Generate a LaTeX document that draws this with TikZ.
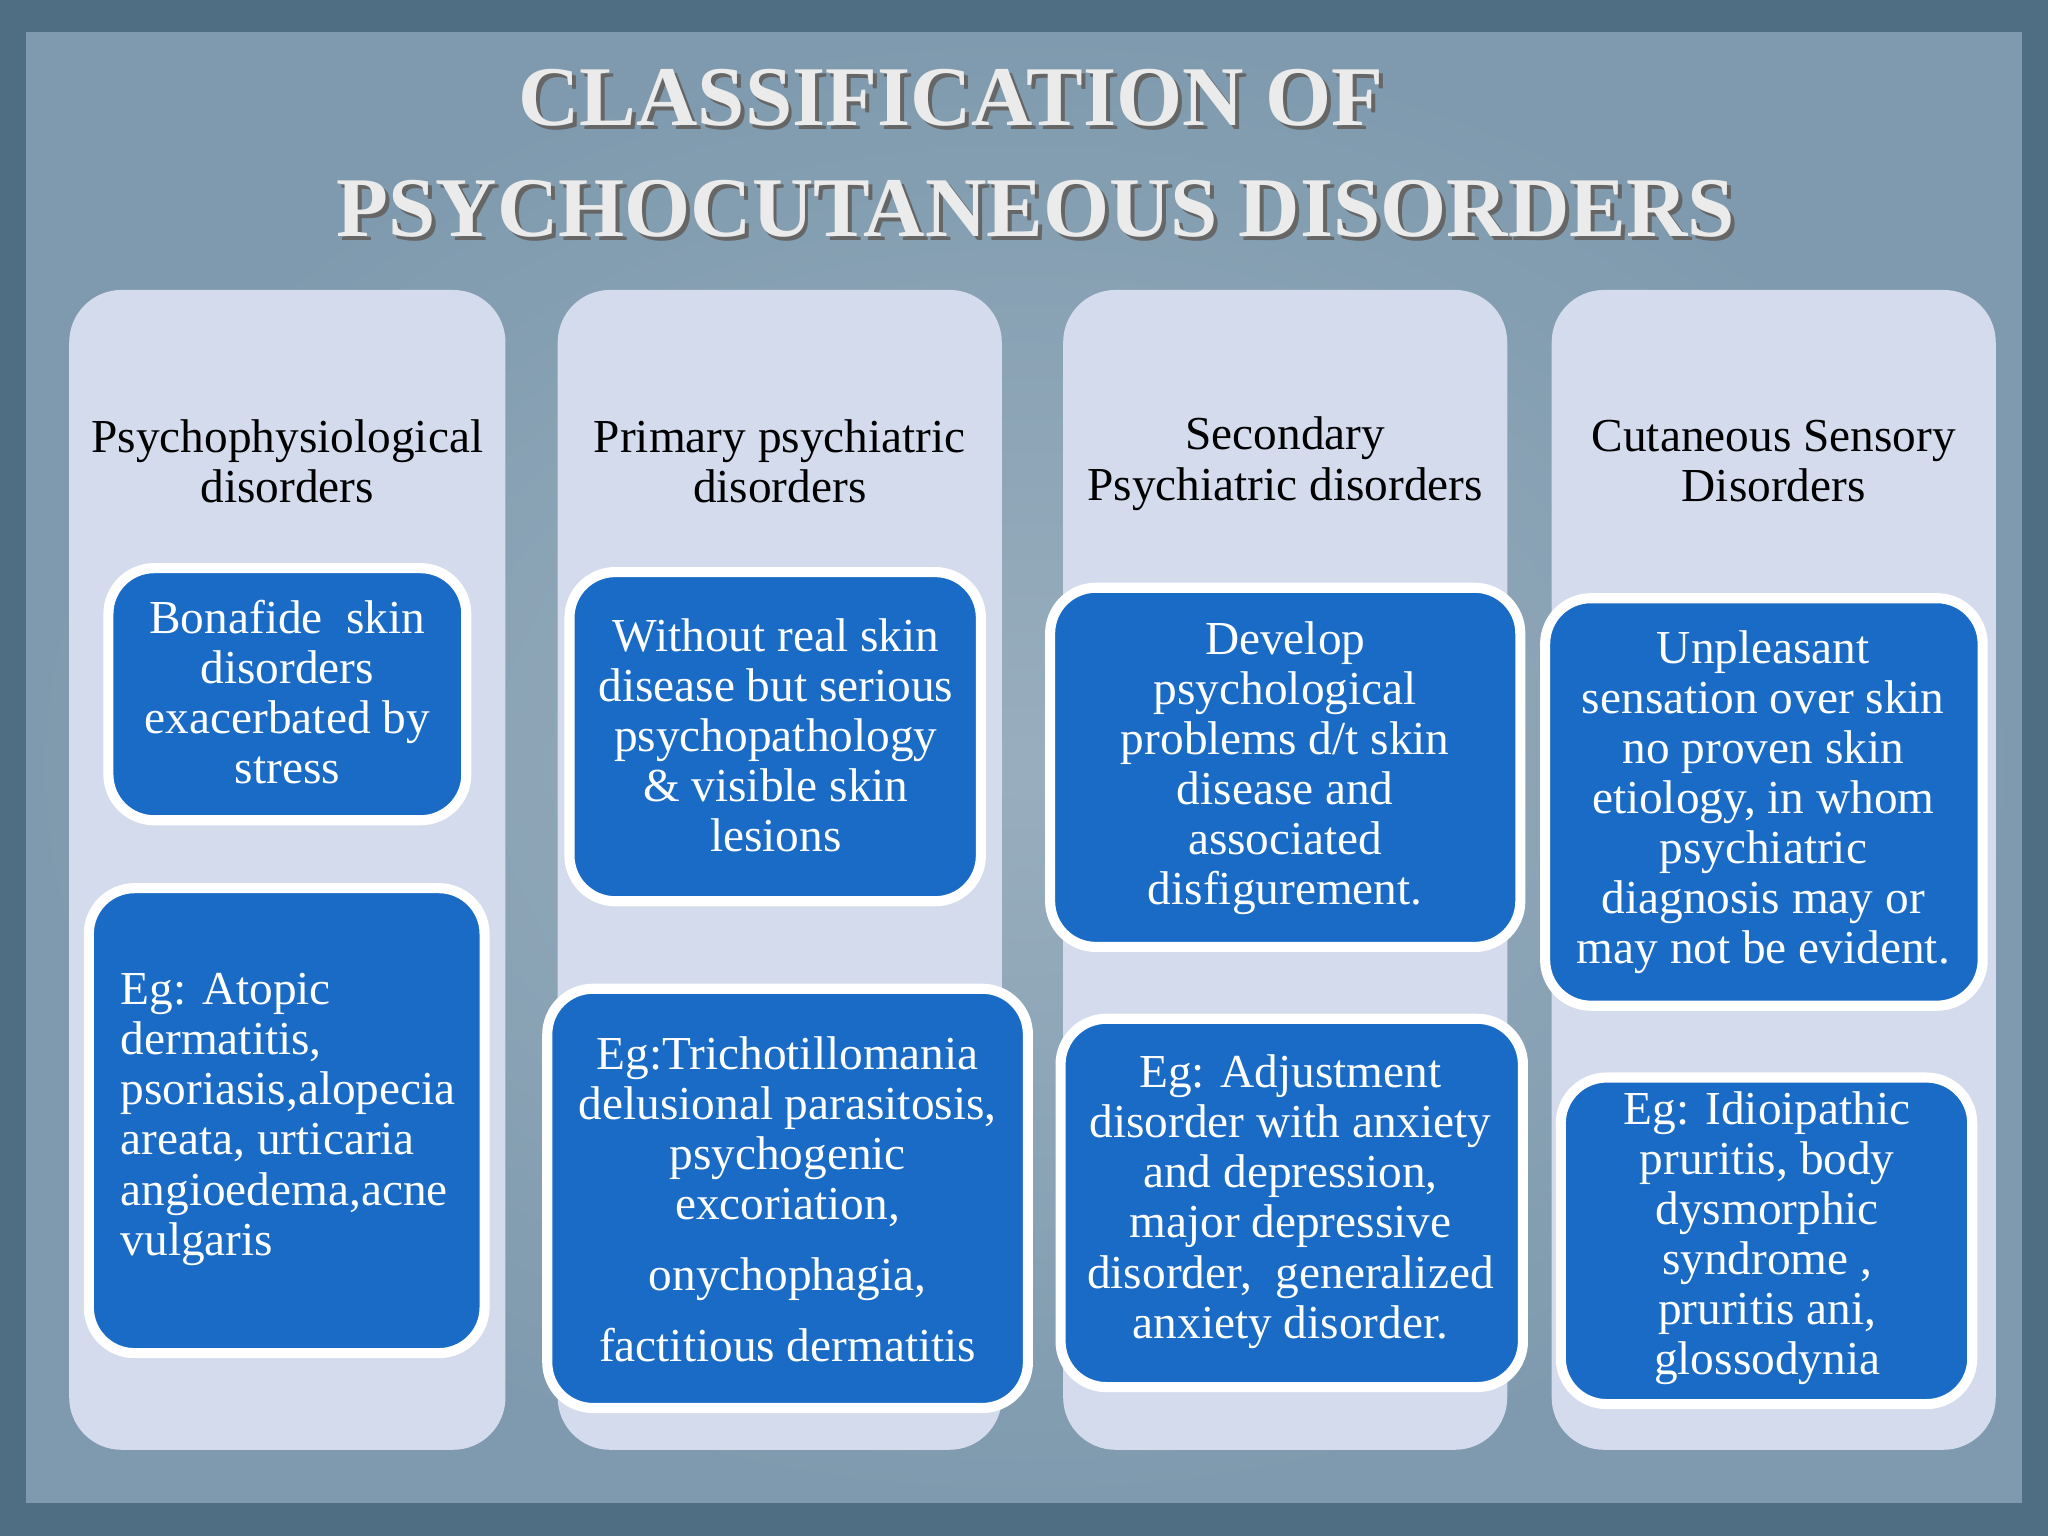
\documentclass[tikz,border=0pt]{standalone}
\usepackage{fontspec}
\setmainfont{Liberation Serif}
\begin{document}
\begin{tikzpicture}[x=0.01cm,y=-0.01cm,
  col/.style={fill=colbg,rounded corners=0.4cm,draw=none},
  bbox/.style={fill=boxblue,draw=white,line width=2.2pt,rounded corners=0.35cm},
  txt/.style={text=white,align=center,font=\fontsize{10.3}{10.9}\selectfont},
  hdr/.style={text=black,align=center,font=\fontsize{10.3}{10.9}\selectfont}]
\definecolor{colbg}{HTML}{D3DBEC}
\definecolor{boxblue}{HTML}{1A6BC6}
\definecolor{bgdark}{HTML}{4F6D83}
\definecolor{bgmid}{HTML}{7F9AAE}
\useasboundingbox (0,0) rectangle (1568,1176);
\fill[bgdark] (0,0) rectangle (1568,1176);
\shade[inner color=bgmid!80!white,outer color=bgmid] (20,25) rectangle (1548,1150);
% title
\foreach \dx/\c in {3/black!60,0/white!92!black}{
\node[text=\c,font=\fontsize{18.5}{22}\selectfont\bfseries] (t1\dx) at (728+\dx,75+\dx) {CLASSIFICATION OF};
\node[text=\c,font=\fontsize{18.5}{22}\selectfont\bfseries] (t2\dx) at (793+\dx,160+\dx) {PSYCHOCUTANEOUS DISORDERS};
}
% columns
\fill[col] (53,222) rectangle (387,1110);
\fill[col] (427,222) rectangle (767,1110);
\fill[col] (814,222) rectangle (1154,1110);
\fill[col] (1188,222) rectangle (1528,1110);
\node[hdr] (h1) at (220,353) {Psychophysiological\\disorders};
\node[hdr] (h2) at (597,353) {Primary psychiatric\\disorders};
\node[hdr] (h3) at (984,355) {Secondary\\Psychiatric disorders};
\node[hdr] (h4) at (1358,353) {Cutaneous Sensory\\Disorders};
% boxes
\draw[bbox] (83,435) rectangle (357,628);
\node[txt] (b1a) at (220,530) {Bonafide\ \ skin\\disorders\\exacerbated by\\stress};
\draw[bbox] (68,680) rectangle (371,1036);
\node[txt,align=left,anchor=west] (b1b) at (80,857) {Eg: Atopic\\dermatitis,\\psoriasis,alopecia\\areata, urticaria\\angioedema,acne\\vulgaris};
\draw[bbox] (436,438) rectangle (751,690);
\node[txt] (b2a) at (594,563) {Without real skin\\disease but serious\\psychopathology\\\& visible skin\\lesions};
\draw[bbox] (419,757) rectangle (787,1078);
\node[txt] (b2b) at (603,918) {Eg:Trichotillomania\\delusional parasitosis,\\psychogenic\\excoriation,\\[4.5pt]onychophagia,\\[4.5pt]factitious dermatitis};
\draw[bbox] (804,450) rectangle (1164,725);
\node[txt] (b3a) at (984,588) {Develop\\psychological\\problems d/t skin\\disease and\\associated\\disfigurement.};
\draw[bbox] (812,780) rectangle (1166,1062);
\node[txt] (b3b) at (988,920) {Eg: Adjustment\\disorder with anxiety\\and depression,\\major depressive\\disorder,\ \ generalized\\anxiety disorder.};
\draw[bbox] (1183,458) rectangle (1518,770);
\node[txt] (b4a) at (1350,614) {Unpleasant\\sensation over skin\\no proven skin\\etiology, in whom\\psychiatric\\diagnosis may or\\may not be evident.};
\draw[bbox] (1195,825) rectangle (1510,1075);
\node[txt] (b4b) at (1353,948) {Eg: Idioipathic\\pruritis, body\\dysmorphic\\syndrome ,\\pruritis ani,\\glossodynia};
\end{tikzpicture}
\end{document}
